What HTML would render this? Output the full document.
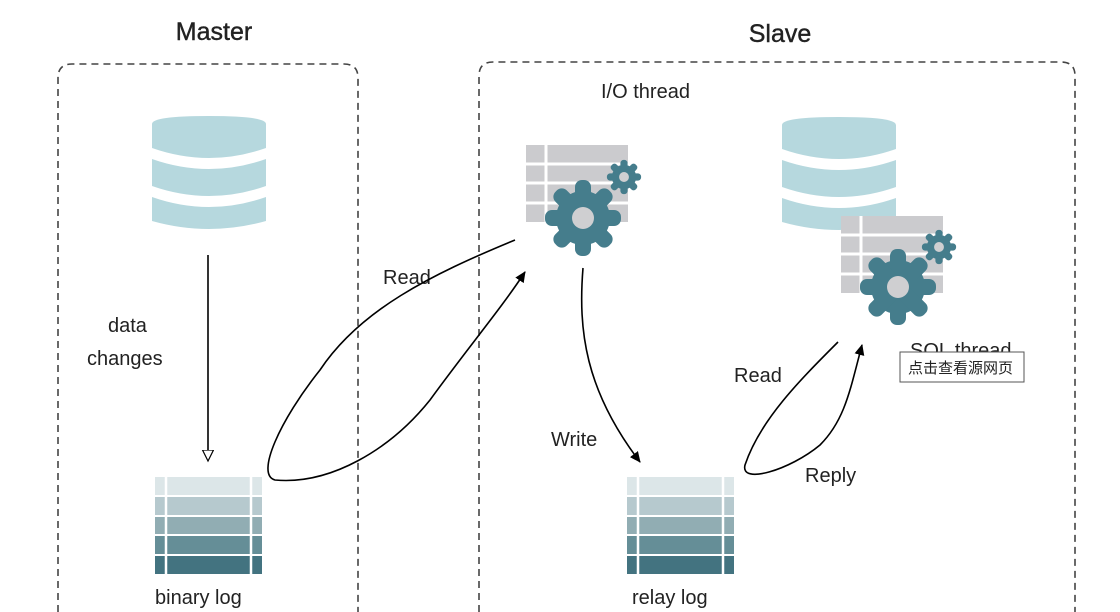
<!DOCTYPE html>
<html><head><meta charset="utf-8"><style>
html,body{margin:0;padding:0;background:#fff;width:1120px;height:612px;overflow:hidden;}
svg{display:block;}
text{font-family:"Liberation Sans","DejaVu Sans",sans-serif;fill:#222;}
</style></head><body>
<svg width="1120" height="612" viewBox="0 0 1120 612" xmlns="http://www.w3.org/2000/svg">
<defs>
<g id="gear">
  <g fill="#457d8c">
    <circle r="27"/>
    <rect x="-8" y="-38" width="16" height="76" rx="7"/>
    <rect x="-8" y="-38" width="16" height="76" rx="7" transform="rotate(45)"/>
    <rect x="-8" y="-38" width="16" height="76" rx="7" transform="rotate(90)"/>
    <rect x="-8" y="-38" width="16" height="76" rx="7" transform="rotate(135)"/>
  </g>
  <circle r="11" fill="#cfcfd1"/>
</g>
<g id="table">
  <rect x="0" y="0" width="102" height="77" fill="#cbcbce"/>
  <g stroke="#fff" stroke-width="3">
    <line x1="0" y1="19" x2="102" y2="19"/><line x1="0" y1="38" x2="102" y2="38"/><line x1="0" y1="58" x2="102" y2="58"/>
    <line x1="20" y1="0" x2="20" y2="77"/>
  </g>
</g>
<g id="db" fill="#b6d8de">
  <path d="M0,8 Q0,0 57,0 Q114,0 114,8 V32 Q57,52 0,32 Z"/>
  <path d="M0,43 Q57,63 114,43 V70 Q57,90 0,70 Z"/>
  <path d="M0,81 Q57,101 114,81 V105 Q57,121 0,105 Z"/>
</g>
<g id="log">
  <rect x="0" y="0" width="107" height="18" fill="#dce6e8"/>
  <rect x="0" y="20" width="107" height="18" fill="#b6c9ce"/>
  <rect x="0" y="40" width="107" height="17" fill="#91adb3"/>
  <rect x="0" y="59" width="107" height="18" fill="#658e97"/>
  <rect x="0" y="79" width="107" height="18" fill="#437380"/>
  <g stroke="#fff" stroke-width="2.5"><line x1="11" y1="0" x2="11" y2="97"/><line x1="96" y1="0" x2="96" y2="97"/></g>
</g>
<marker id="ah" markerWidth="12" markerHeight="12" refX="10" refY="5" orient="auto" markerUnits="userSpaceOnUse"><path d="M0,0 L11,5 L0,10 Z" fill="#000"/></marker>
<marker id="oh" markerWidth="14" markerHeight="14" refX="10" refY="6" orient="auto" markerUnits="userSpaceOnUse"><path d="M0,0.5 L11,6 L0,11.5 Z" fill="#fff" stroke="#000" stroke-width="1.2"/></marker>
</defs>

<text x="214" y="40" font-size="25" text-anchor="middle" stroke="#222" stroke-width="0.4">Master</text>
<text x="780" y="42" font-size="25" text-anchor="middle" stroke="#222" stroke-width="0.4">Slave</text>

<path d="M58,612 V78 Q58,64 72,64 H344 Q358,64 358,78 V612" fill="none" stroke="#444" stroke-width="1.6" stroke-dasharray="7,5"/>
<path d="M479,612 V76 Q479,62 493,62 H1061 Q1075,62 1075,76 V612" fill="none" stroke="#444" stroke-width="1.6" stroke-dasharray="7,5"/>

<use href="#db" x="152" y="116"/>
<use href="#db" x="782" y="117"/>

<use href="#table" x="526" y="145"/>
<use href="#gear" transform="translate(583,218)"/>
<use href="#gear" transform="translate(624,177) scale(0.45)"/>

<use href="#table" x="841" y="216"/>
<use href="#gear" transform="translate(898,287)"/>
<use href="#gear" transform="translate(939,247) scale(0.45)"/>

<use href="#log" x="155" y="477"/>
<use href="#log" x="627" y="477"/>

<text x="601" y="98" font-size="20">I/O thread</text>
<text x="108" y="332" font-size="20">data</text>
<text x="87" y="365" font-size="20">changes</text>
<text x="383" y="284" font-size="20">Read</text>
<text x="551" y="446" font-size="20">Write</text>
<text x="734" y="382" font-size="20">Read</text>
<text x="805" y="482" font-size="20">Reply</text>
<text x="155" y="604" font-size="20">binary log</text>
<text x="632" y="604" font-size="20">relay log</text>
<text x="910" y="357" font-size="20">SQL thread</text>

<g fill="none" stroke="#000" stroke-width="1.6">
  <line x1="208" y1="255" x2="208" y2="460" marker-end="url(#oh)"/>
  <path d="M515,240 C430,275 360,310 320,370 C280,420 255,475 275,480 C330,485 390,450 430,400 C470,345 500,310 525,272" marker-end="url(#ah)"/>
  <path d="M583,268 C578,330 585,390 640,462" marker-end="url(#ah)"/>
  <path d="M838,342 C800,380 760,420 745,465 C740,485 790,470 820,445 C845,420 850,390 862,345" marker-end="url(#ah)"/>
</g>

<rect x="900" y="352" width="124" height="30" fill="#fff" stroke="#555" stroke-width="1"/>
<text x="908" y="373" font-size="15" style="font-family:'Liberation Sans','Noto Sans CJK SC',sans-serif">点击查看源网页</text>
</svg>
</body></html>
